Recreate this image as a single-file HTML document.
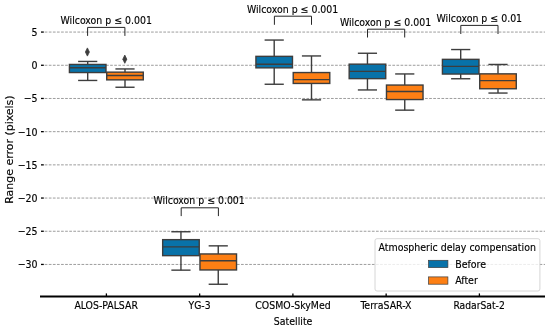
<!DOCTYPE html>
<html lang="en"><head><meta charset="utf-8"><title>Range error boxplot</title>
<style>html,body{margin:0;padding:0;background:#fff;}body{width:550px;height:328px;overflow:hidden;}svg{display:block;}text{font-family:"DejaVu Sans Condensed","DejaVu Sans","Liberation Sans",sans-serif;fill:#000;stroke:#000;stroke-width:0.14px;}</style></head><body>
<svg width="550" height="328" viewBox="0 0 550 328">
<rect width="550" height="328" fill="#fff"/>
<g stroke="#929292" stroke-width="0.9" stroke-dasharray="2.7 1.39" stroke-dashoffset="-0.7" fill="none">
<line x1="44" x2="545" y1="32.07" y2="32.07"/>
<line x1="44" x2="545" y1="65.27" y2="65.27"/>
<line x1="44" x2="545" y1="98.47" y2="98.47"/>
<line x1="44" x2="545" y1="131.66" y2="131.66"/>
<line x1="44" x2="545" y1="164.86" y2="164.86"/>
<line x1="44" x2="545" y1="198.05" y2="198.05"/>
<line x1="44" x2="545" y1="231.25" y2="231.25"/>
<line x1="44" x2="545" y1="264.44" y2="264.44"/>
</g>
<g stroke="#000" stroke-width="1.3">
<line x1="41.0" x2="43.8" y1="32.07" y2="32.07"/>
<line x1="41.0" x2="43.8" y1="65.27" y2="65.27"/>
<line x1="41.0" x2="43.8" y1="98.47" y2="98.47"/>
<line x1="41.0" x2="43.8" y1="131.66" y2="131.66"/>
<line x1="41.0" x2="43.8" y1="164.86" y2="164.86"/>
<line x1="41.0" x2="43.8" y1="198.05" y2="198.05"/>
<line x1="41.0" x2="43.8" y1="231.25" y2="231.25"/>
<line x1="41.0" x2="43.8" y1="264.44" y2="264.44"/>
</g>
<g font-size="10.5" text-anchor="end">
<text x="37.6" y="36.07">5</text>
<text x="37.6" y="69.27">0</text>
<text x="37.6" y="102.47">−5</text>
<text x="37.6" y="135.66">−10</text>
<text x="37.6" y="168.86">−15</text>
<text x="37.6" y="202.05">−20</text>
<text x="37.6" y="235.25">−25</text>
<text x="37.6" y="268.44">−30</text>
</g>
<g stroke="#3d3d3d" stroke-width="1.4" fill="none">
<line x1="87.70" x2="87.70" y1="61.45" y2="64.45"/>
<line x1="87.70" x2="87.70" y1="72.55" y2="80.45"/>
<line x1="78.11" x2="97.29" y1="61.45" y2="61.45"/>
<line x1="78.11" x2="97.29" y1="80.45" y2="80.45"/>
<rect x="69.42" y="64.45" width="36.56" height="8.10" fill="#0872a9"/>
<line x1="69.42" x2="105.98" y1="67.75" y2="67.75"/>
<line x1="125.00" x2="125.00" y1="68.95" y2="72.15"/>
<line x1="125.00" x2="125.00" y1="79.85" y2="87.25"/>
<line x1="115.41" x2="134.59" y1="68.95" y2="68.95"/>
<line x1="115.41" x2="134.59" y1="87.25" y2="87.25"/>
<rect x="106.72" y="72.15" width="36.56" height="7.70" fill="#fd7f14"/>
<line x1="106.72" x2="143.28" y1="75.55" y2="75.55"/>
<line x1="180.95" x2="180.95" y1="231.75" y2="239.65"/>
<line x1="180.95" x2="180.95" y1="255.65" y2="270.15"/>
<line x1="171.36" x2="190.54" y1="231.75" y2="231.75"/>
<line x1="171.36" x2="190.54" y1="270.15" y2="270.15"/>
<rect x="162.67" y="239.65" width="36.56" height="16.00" fill="#0872a9"/>
<line x1="162.67" x2="199.23" y1="246.85" y2="246.85"/>
<line x1="218.25" x2="218.25" y1="245.85" y2="253.95"/>
<line x1="218.25" x2="218.25" y1="269.95" y2="284.25"/>
<line x1="208.66" x2="227.84" y1="245.85" y2="245.85"/>
<line x1="208.66" x2="227.84" y1="284.25" y2="284.25"/>
<rect x="199.97" y="253.95" width="36.56" height="16.00" fill="#fd7f14"/>
<line x1="199.97" x2="236.53" y1="260.75" y2="260.75"/>
<line x1="274.20" x2="274.20" y1="40.05" y2="56.35"/>
<line x1="274.20" x2="274.20" y1="67.85" y2="84.25"/>
<line x1="264.61" x2="283.79" y1="40.05" y2="40.05"/>
<line x1="264.61" x2="283.79" y1="84.25" y2="84.25"/>
<rect x="255.92" y="56.35" width="36.56" height="11.50" fill="#0872a9"/>
<line x1="255.92" x2="292.48" y1="64.25" y2="64.25"/>
<line x1="311.50" x2="311.50" y1="55.95" y2="72.55"/>
<line x1="311.50" x2="311.50" y1="83.45" y2="99.85"/>
<line x1="301.91" x2="321.09" y1="55.95" y2="55.95"/>
<line x1="301.91" x2="321.09" y1="99.85" y2="99.85"/>
<rect x="293.22" y="72.55" width="36.56" height="10.90" fill="#fd7f14"/>
<line x1="293.22" x2="329.78" y1="79.65" y2="79.65"/>
<line x1="367.45" x2="367.45" y1="53.25" y2="64.15"/>
<line x1="367.45" x2="367.45" y1="78.65" y2="89.95"/>
<line x1="357.86" x2="377.04" y1="53.25" y2="53.25"/>
<line x1="357.86" x2="377.04" y1="89.95" y2="89.95"/>
<rect x="349.17" y="64.15" width="36.56" height="14.50" fill="#0872a9"/>
<line x1="349.17" x2="385.73" y1="71.35" y2="71.35"/>
<line x1="404.75" x2="404.75" y1="73.95" y2="85.05"/>
<line x1="404.75" x2="404.75" y1="99.55" y2="110.15"/>
<line x1="395.16" x2="414.34" y1="73.95" y2="73.95"/>
<line x1="395.16" x2="414.34" y1="110.15" y2="110.15"/>
<rect x="386.47" y="85.05" width="36.56" height="14.50" fill="#fd7f14"/>
<line x1="386.47" x2="423.03" y1="91.45" y2="91.45"/>
<line x1="460.70" x2="460.70" y1="49.55" y2="59.35"/>
<line x1="460.70" x2="460.70" y1="74.05" y2="78.75"/>
<line x1="451.11" x2="470.29" y1="49.55" y2="49.55"/>
<line x1="451.11" x2="470.29" y1="78.75" y2="78.75"/>
<rect x="442.42" y="59.35" width="36.56" height="14.70" fill="#0872a9"/>
<line x1="442.42" x2="478.98" y1="66.35" y2="66.35"/>
<line x1="498.00" x2="498.00" y1="64.45" y2="73.85"/>
<line x1="498.00" x2="498.00" y1="88.75" y2="93.05"/>
<line x1="488.41" x2="507.59" y1="64.45" y2="64.45"/>
<line x1="488.41" x2="507.59" y1="93.05" y2="93.05"/>
<rect x="479.72" y="73.85" width="36.56" height="14.90" fill="#fd7f14"/>
<line x1="479.72" x2="516.28" y1="80.65" y2="80.65"/>
</g>
<path d="M85.40 52.00 l2.0 -4.1 l2.0 4.1 l-2.0 4.1 z" fill="#3d3d3d" stroke="#3d3d3d" stroke-width="0.8"/>
<path d="M122.80 59.20 l2.0 -4.1 l2.0 4.1 l-2.0 4.1 z" fill="#3d3d3d" stroke="#3d3d3d" stroke-width="0.8"/>
<path d="M87.60 35.90 V27.40 H124.90 V35.90" fill="none" stroke="#262626" stroke-width="1.0"/>
<text x="60.50" y="23.90" font-size="10.5" textLength="91.40" lengthAdjust="spacingAndGlyphs">Wilcoxon p ≤ 0.001</text>
<path d="M181.20 216.10 V207.80 H218.40 V216.10" fill="none" stroke="#262626" stroke-width="1.0"/>
<text x="153.50" y="203.90" font-size="10.5" textLength="91.30" lengthAdjust="spacingAndGlyphs">Wilcoxon p ≤ 0.001</text>
<path d="M274.40 24.80 V16.20 H311.50 V24.80" fill="none" stroke="#262626" stroke-width="1.0"/>
<text x="246.90" y="12.90" font-size="10.5" textLength="91.40" lengthAdjust="spacingAndGlyphs">Wilcoxon p ≤ 0.001</text>
<path d="M367.50 37.50 V29.20 H404.70 V37.50" fill="none" stroke="#262626" stroke-width="1.0"/>
<text x="339.90" y="25.90" font-size="10.5" textLength="91.30" lengthAdjust="spacingAndGlyphs">Wilcoxon p ≤ 0.001</text>
<path d="M460.80 34.00 V25.40 H498.00 V34.00" fill="none" stroke="#262626" stroke-width="1.0"/>
<text x="436.50" y="22.10" font-size="10.5" textLength="85.60" lengthAdjust="spacingAndGlyphs">Wilcoxon p ≤ 0.01</text>
<rect x="375.0" y="238.7" width="164.9" height="52.3" rx="2" ry="2" fill="#fff" fill-opacity="0.8" stroke="#cccccc" stroke-width="0.8"/>
<text x="378.6" y="251.4" font-size="10.5" textLength="157.3" lengthAdjust="spacingAndGlyphs">Atmospheric delay compensation</text>
<rect x="428.5" y="260.3" width="19.4" height="7.3" fill="#0872a9" stroke="#3d3d3d" stroke-width="0.7"/>
<rect x="428.5" y="276.9" width="19.4" height="7.3" fill="#fd7f14" stroke="#3d3d3d" stroke-width="0.7"/>
<text x="455.2" y="267.6" font-size="10.5">Before</text>
<text x="455.2" y="283.9" font-size="10.5">After</text>
<line x1="40" x2="545" y1="296.5" y2="296.5" stroke="#000" stroke-width="2"/>
<g stroke="#000" stroke-width="1.3">
<line x1="106.40" x2="106.40" y1="293.4" y2="296"/>
<line x1="199.65" x2="199.65" y1="293.4" y2="296"/>
<line x1="292.90" x2="292.90" y1="293.4" y2="296"/>
<line x1="386.15" x2="386.15" y1="293.4" y2="296"/>
<line x1="479.40" x2="479.40" y1="293.4" y2="296"/>
</g>
<text x="74.40" y="309" font-size="10.5" textLength="63.50" lengthAdjust="spacingAndGlyphs">ALOS-PALSAR</text>
<text x="188.60" y="309" font-size="10.5" textLength="21.90" lengthAdjust="spacingAndGlyphs">YG-3</text>
<text x="255.30" y="309" font-size="10.5" textLength="75.30" lengthAdjust="spacingAndGlyphs">COSMO-SkyMed</text>
<text x="360.40" y="309" font-size="10.5" textLength="51.10" lengthAdjust="spacingAndGlyphs">TerraSAR-X</text>
<text x="453.40" y="309" font-size="10.5" textLength="51.40" lengthAdjust="spacingAndGlyphs">RadarSat-2</text>
<text x="273.8" y="324.75" font-size="10.5" textLength="38.6" lengthAdjust="spacingAndGlyphs">Satellite</text>
<text transform="translate(12.8 203.8) rotate(-90)" font-size="10.6" font-family="&quot;DejaVu Sans&quot;,&quot;Liberation Sans&quot;,sans-serif" textLength="108.4" lengthAdjust="spacingAndGlyphs">Range error (pixels)</text>
</svg></body></html>
